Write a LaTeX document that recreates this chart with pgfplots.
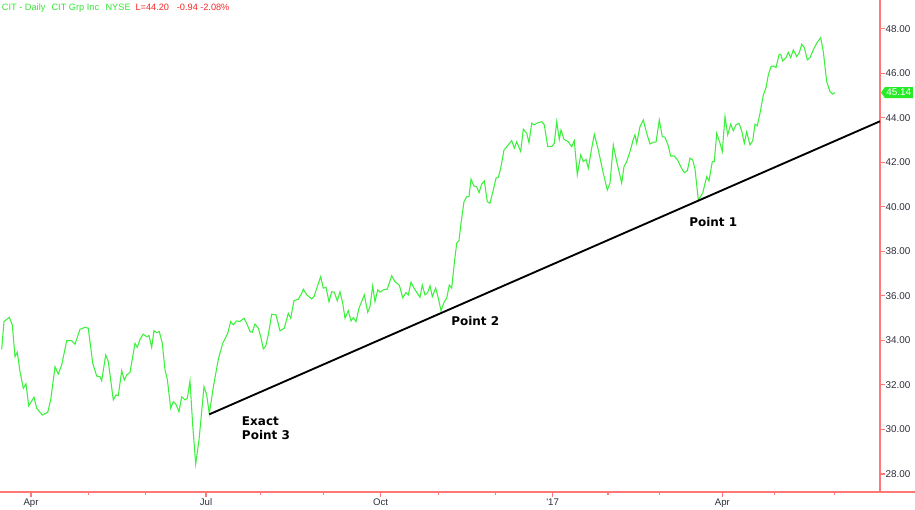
\documentclass[border=0pt]{standalone}
\usepackage{pgfplots}
\pgfplotsset{compat=1.18}
\usepackage{fontspec}
\setmainfont{Liberation Sans}
\newfontfamily\annfont{DejaVu Sans}
\usetikzlibrary{shapes.symbols}
\definecolor{axisred}{RGB}{255,120,120}
\definecolor{linegreen}{RGB}{60,240,60}
\definecolor{hdrgreen}{RGB}{50,230,50}
\definecolor{hdrred}{RGB}{250,40,40}
\definecolor{lblcol}{RGB}{45,45,60}
\definecolor{taggreen}{RGB}{40,235,40}
\begin{document}
\begin{tikzpicture}
\path[use as bounding box] (0,-13.5pt) rectangle (686.25pt,369pt);
\begin{axis}[
  at={(0,0)}, anchor=south west,
  scale only axis, width=660pt, height=369pt,
  xmin=0, xmax=880, ymin=27.19, ymax=49.30,
  axis x line*=bottom, axis y line*=right,
  axis line style={draw=axisred, line width=1.1pt, -},
  xtick={31,206,380.5,552.6,722.4},
  xticklabels={Apr,Jul,Oct,\textquotesingle17,Apr},
  minor xtick={88.7,145.9,260.8,323.9,438.2,495.4,608,659.4,774.3,834.4},
  ytick={28,30,32,34,36,38,40,42,44,46,48},
  tick align=outside,
  major tick length=3.5pt, minor tick length=2.2pt,
  tick style={draw=axisred, line width=0.8pt},
  yticklabel style={font=\fontsize{7.4}{8}\selectfont, text=lblcol, xshift=-2.8pt,
    /pgf/number format/.cd, fixed, fixed zerofill, precision=2, assume math mode=true},
  xticklabel style={font=\fontsize{7.2}{8}\selectfont, text=lblcol, yshift=2pt},
  clip=false,
]
\addplot[linegreen, line width=0.8pt] table {
x y
1.7 33.60
4 34.85
9.3 35.04
12.3 34.70
15 33.27
17.3 33.47
20 32.60
23.3 31.85
26 32.05
28.7 31.06
34 31.45
36.7 30.95
42.3 30.65
47.7 30.77
50.7 31.33
55 32.82
58.3 32.49
61.7 32.90
66.7 33.99
71.7 33.99
75 33.83
80 34.50
85 34.59
88.3 34.55
92.7 32.98
96.7 32.40
100 32.37
101.7 32.19
105.7 33.35
108.3 33.05
113.3 31.33
116 31.55
118.3 31.52
121.7 32.64
124.3 32.22
126.7 32.45
130 32.57
135 33.87
137.3 33.69
140 34.05
143.3 34.28
146.7 34.17
149 34.22
151.7 33.69
154 34.44
156.7 34.35
159.3 34.40
162.3 33.87
165 32.67
167.3 32.26
170.7 30.95
173.3 31.25
175.7 31.15
179 30.80
181.7 31.47
185 31.33
187.3 31.40
190 32.18
192.7 30.20
195.7 28.45
199 29.53
204 31.92
206.7 31.55
209.3 30.70
213.3 31.90
218.3 33.15
222.7 33.87
227.7 34.32
230.7 34.85
233.3 34.70
236.7 34.88
240 34.85
244 35.00
246.7 34.77
250 34.40
252.3 34.37
255 34.74
258.3 34.55
260.7 34.17
263.3 33.62
265.7 33.75
268.3 34.25
271.7 35.18
276 35.15
280 34.43
284.3 34.55
288.3 35.22
290.7 35.00
294 35.79
298.3 35.85
301.7 36.12
303.3 36.30
306.7 36.05
311.7 35.87
314 35.97
317.3 36.42
320.7 36.87
323.3 36.35
326 36.39
329 35.74
331.7 36.19
334.3 36.17
337.3 35.78
340 36.19
342.7 35.67
345 35.00
348.3 35.34
351 34.88
353.3 35.02
356 34.85
359 35.45
364.3 36.05
367.7 35.27
370 35.52
372.7 36.45
375 35.74
377.7 36.27
380 36.17
383.3 36.27
387.3 36.31
391.7 36.91
395 36.64
399.3 36.49
402.7 35.92
406 36.15
408.3 36.05
411 36.62
414 36.35
417.3 36.12
420 35.94
422.3 36.49
425 36.05
427.7 36.15
430 36.46
432.3 35.97
435.7 36.35
438.3 35.90
441 35.34
444.3 35.74
446.7 35.90
449.3 36.49
451.7 36.35
454.3 37.47
456.7 38.37
459 38.49
461 39.27
464 40.24
466.7 40.46
469 40.46
471 41.25
474 40.94
476.7 40.91
479 40.64
481.7 41.03
484.3 41.17
487.3 40.24
490 40.17
493.3 40.76
496 41.29
498.3 41.33
500.7 41.74
504 42.56
508.3 42.79
511.7 42.98
514.3 42.64
516.7 42.93
520.7 42.49
523.3 43.49
526.7 43.31
529 42.89
531.7 43.76
534.3 43.69
536.7 43.76
541.7 43.83
544.3 43.69
547.7 42.71
551.7 42.71
554.3 42.86
556.7 43.83
559.3 43.04
561 43.46
564 43.04
568.3 42.93
571.7 42.71
574.3 42.98
577.3 41.44
580.7 42.34
583.3 42.04
586 42.14
588.3 41.74
591.7 42.64
594.3 43.27
598.3 42.56
603.3 41.51
607.3 40.76
610 41.07
613.3 42.79
616.7 42.04
621.7 41.07
624 41.81
626.7 42.04
630 42.49
633.3 43.04
635 43.24
636.7 42.86
640 43.61
643.3 43.91
646.7 43.31
650 42.83
653.3 42.91
656 42.91
659.3 43.91
662.3 43.16
665 43.13
668.3 42.74
670.7 42.29
674 42.29
677.3 42.14
680.7 41.81
684.3 41.54
687.3 41.63
690 42.19
692.7 42.11
695 41.71
698.3 40.31
702.7 40.62
706.7 41.36
709 41.17
712.3 42.04
714.3 42.04
716.7 43.31
720 42.86
722.3 42.49
725 44.06
727.7 43.24
730.7 43.72
733.3 43.42
736 43.69
739 43.76
741.7 43.42
744.3 42.86
746.7 43.38
750 42.79
752.7 42.97
755 43.72
757.3 43.65
760 44.21
763.3 45.03
766 45.36
768.3 45.93
771 46.31
773.3 46.34
776 46.26
779 46.83
780.7 46.86
782.7 46.56
786 46.71
788.3 46.95
790.7 46.71
793.3 47.06
796.7 46.76
799.3 46.93
801.7 47.31
804.3 47.16
807.3 46.61
810 46.71
813.3 47.06
816.7 47.36
820.7 47.61
823.3 46.98
826.7 45.63
830 45.18
832.7 45.07
835 45.14
};
\addplot[black, line width=1.4pt] coordinates {(209.3,30.68) (880,43.85)};
\node[font=\annfont\bfseries\fontsize{9}{10}\selectfont, anchor=base west, inner sep=0pt] at (axis cs:241.7,30.20) {Exact};
\node[font=\annfont\bfseries\fontsize{9}{10}\selectfont, anchor=base west, inner sep=0pt] at (axis cs:241.7,29.55) {Point 3};
\node[font=\annfont\bfseries\fontsize{9}{10}\selectfont, anchor=base west, inner sep=0pt] at (axis cs:451,34.65) {Point 2};
\node[font=\annfont\bfseries\fontsize{9}{10}\selectfont, anchor=base west, inner sep=0pt] at (axis cs:689,39.11) {Point 1};
\node[signal, signal to=west, signal pointer angle=110, fill=taggreen, text=white,
  font=\fontsize{7.4}{8}\selectfont, inner xsep=1.2pt, inner ysep=1pt, minimum height=8.25pt,
  anchor=west] at (axis cs:880.7,45.14) {45.14};
\end{axis}
\draw[axisred, line width=1.1pt] (0,0) -- (686.25pt,0);
\begin{scope}[every node/.style={anchor=base west, inner sep=0pt, font=\fontsize{6.9}{8}\selectfont}]
\node[text=hdrgreen] at (1.3pt,361pt) {CIT - Daily};
\node[text=hdrgreen] at (38.5pt,361pt) {CIT Grp Inc};
\node[text=hdrgreen] at (79pt,361pt) {NYSE};
\node[text=hdrred] at (101.5pt,361pt) {L=44.20};
\node[text=hdrred] at (132.5pt,361pt) {-0.94};
\node[text=hdrred] at (150pt,361pt) {-2.08\%};
\end{scope}
\end{tikzpicture}
\end{document}
